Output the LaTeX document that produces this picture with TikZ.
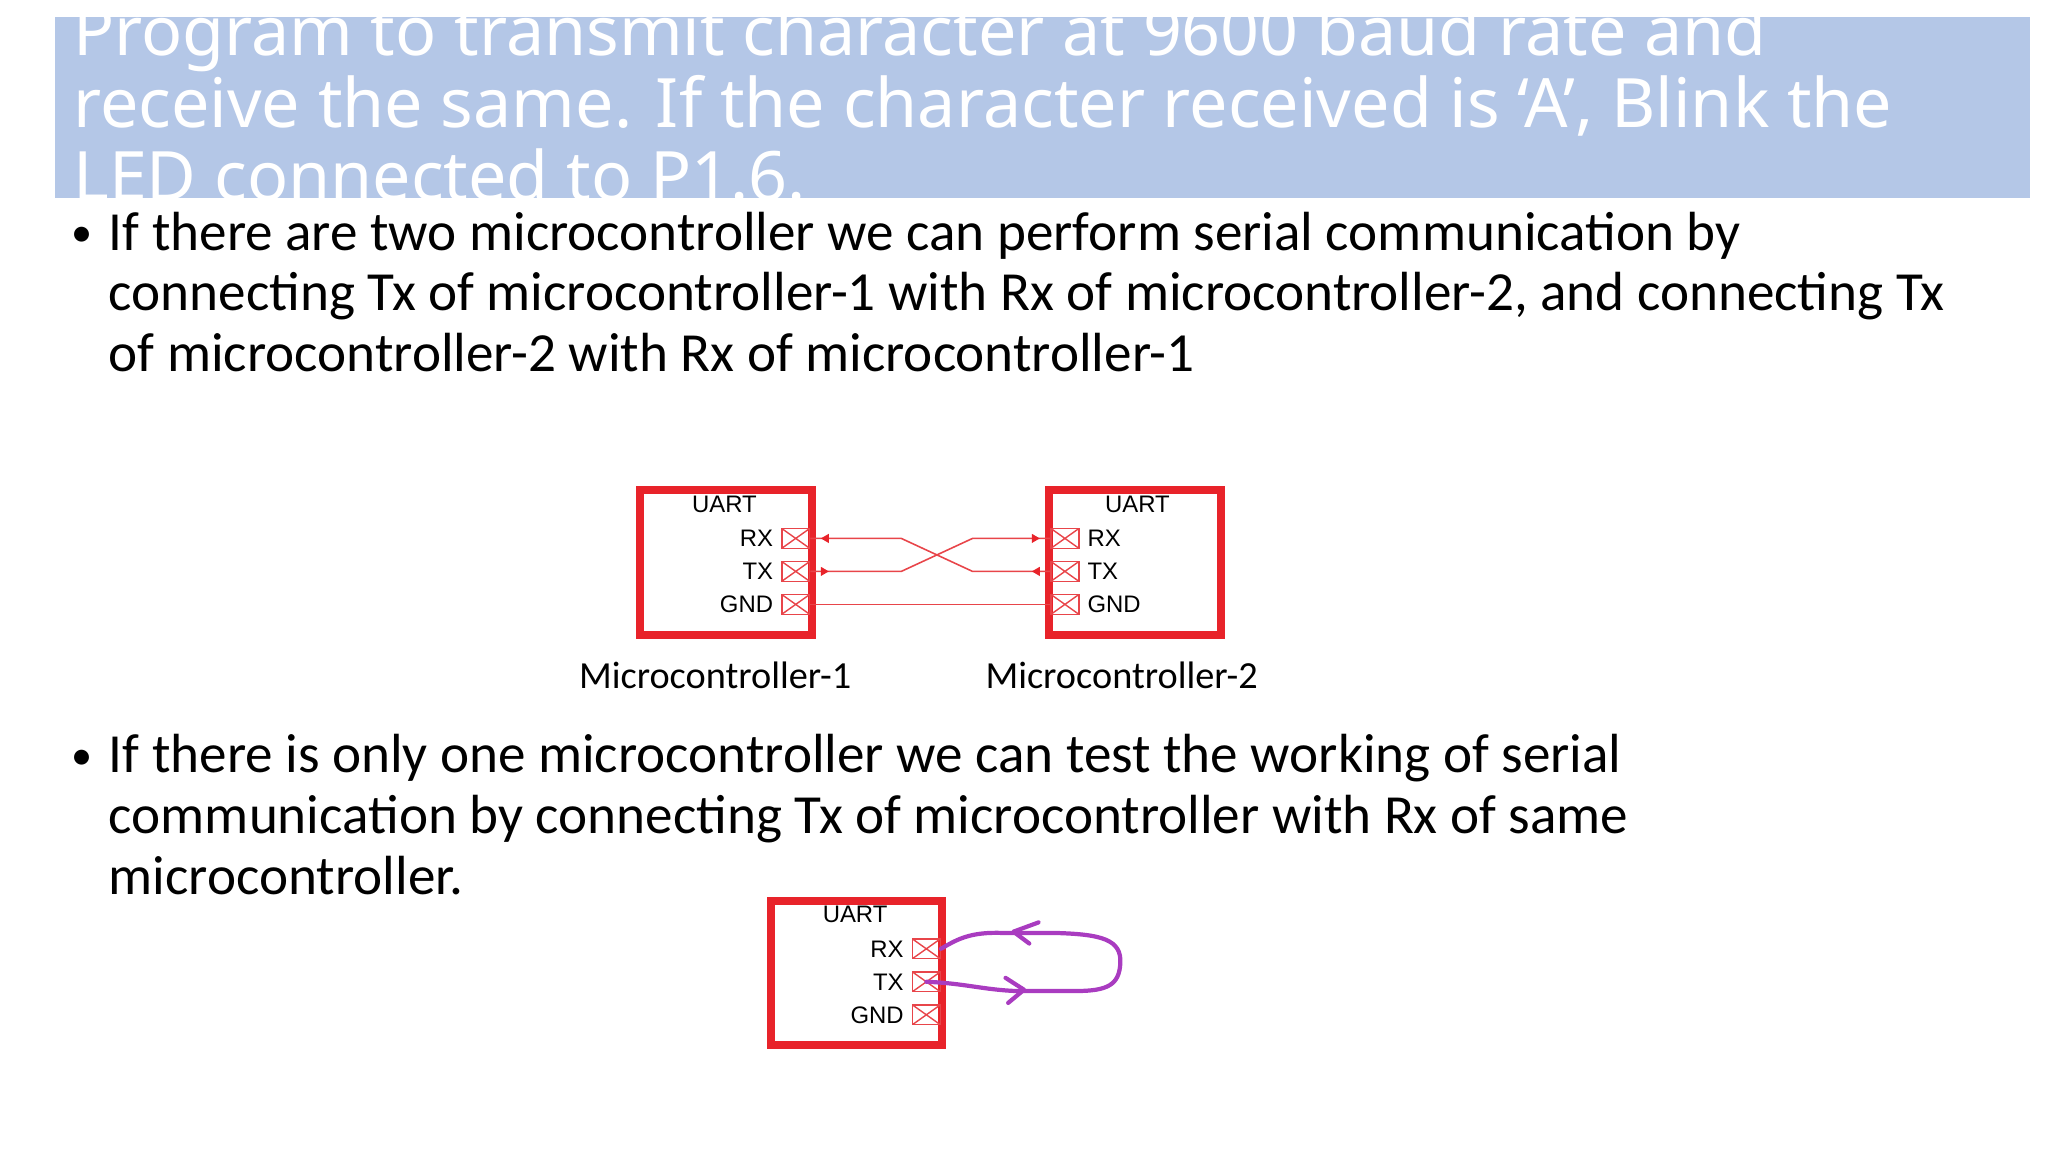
\documentclass[tikz,border=0pt]{standalone}
\usepackage{fontspec}
\setmainfont{Carlito}
\newfontfamily\titlefont{Noto Sans}
\newfontfamily\pinfont{Liberation Sans}
\usetikzlibrary{arrows.meta,calc}
\definecolor{banner}{HTML}{B4C7E7}
\definecolor{ured}{HTML}{E8232A}
\definecolor{wire}{HTML}{E8454A}
\definecolor{purp}{HTML}{A93CC0}
\begin{document}
\begin{tikzpicture}[x=0.013196cm,y=-0.013196cm,
  pinbox/.style={draw=wire,line width=0.4pt,minimum width=7.9pt,minimum height=5.6pt,inner sep=0,
    path picture={\draw[wire,line width=0.4pt](path picture bounding box.south west)--(path picture bounding box.north east)
    (path picture bounding box.north west)--(path picture bounding box.south east);}},
  pinlbl/.style={font=\pinfont\fontsize{6.8}{7.5}\selectfont,inner sep=1pt},
  body/.style={font=\fontsize{15.7}{17.3}\selectfont,align=left,inner sep=0},
  caption/.style={font=\fontsize{10.9}{12}\selectfont,inner sep=0},
  wireln/.style={wire,line width=0.45pt},
  loopln/.style={purp,line width=1.2pt,line cap=round,line join=round}]
\useasboundingbox (0,0) rectangle (1552,873);
% title banner
\fill[banner] (42,13) rectangle (1538,150);
\begin{scope}
\clip (42,13) rectangle (1538,150);
\node[anchor=north west,inner sep=0,text=white,align=left,font=\titlefont\fontsize{19.4}{20.7}\selectfont] (title) at (55,2)
 {Program to transmit character at 9600 baud rate and\\receive the same. If the character received is ‘A’, Blink the\\LED connected to P1.6.};
\end{scope}
% bullets
\node[body,anchor=north west] (b1) at (82,160) {If there are two microcontroller we can perform serial communication by\\connecting Tx of microcontroller-1 with Rx of microcontroller-2, and connecting Tx\\of microcontroller-2 with Rx of microcontroller-1};
\node[body,anchor=base,font=\fontsize{12}{14}\selectfont] (d1) at (62,187) {•};
\node[body,anchor=north west] (b2) at (82,556) {If there is only one microcontroller we can test the working of serial\\communication by connecting Tx of microcontroller with Rx of same\\microcontroller.};
\node[body,anchor=base,font=\fontsize{12}{14}\selectfont] (d2) at (62,583) {•};
% diagram 1
\draw[ured,line width=2.3pt] (485,371) rectangle (615,481);
\draw[ured,line width=2.3pt] (795,371) rectangle (925,481);
\node[pinlbl] (u1) at (549,382) {UART};
\node[pinlbl] (u2) at (862,382) {UART};
\foreach \n/\y/\t in {r/408/RX,t/433/TX,g/458/GND}{
  \node[pinbox] (\n1) at (603,\y) {};
  \node[pinlbl,anchor=east] (\n1l) at (589,\y) {\t};
  \node[pinbox] (\n2) at (807,\y) {};
  \node[pinlbl,anchor=west] (\n2l) at (821,\y) {\t};
}
\coordinate (a1) at (683,408);
\coordinate (a2) at (737,433);
\coordinate (c1) at (683,433);
\coordinate (c2) at (737,408);
\draw[wireln] (r1.east) -- (a1) -- (a2) -- (t2.west);
\draw[wireln] (t1.east) -- (c1) -- (c2) -- (r2.west);
\draw[wireln] (g1.east) -- (g2.west);
\fill[ured] ($(r1.east)+(8,0)$) -- ++(6,-3.5) -- ++(0,7) -- cycle;
\fill[ured] ($(t1.east)+(14,0)$) -- ++(-6,-3.5) -- ++(0,7) -- cycle;
\fill[ured] ($(r2.west)+(-8,0)$) -- ++(-6,-3.5) -- ++(0,7) -- cycle;
\fill[ured] ($(t2.west)+(-14,0)$) -- ++(6,-3.5) -- ++(0,7) -- cycle;
\node[caption] (m1) at (542,512) {Microcontroller-1};
\node[caption] (m2) at (850,512) {Microcontroller-2};
% diagram 2
\draw[ured,line width=2.3pt] (584,683) rectangle (714,792);
\node[pinlbl] (u3) at (648,693) {UART};
\foreach \n/\y/\t in {r/719/RX,t/744/TX,g/769/GND}{
  \node[pinbox] (\n3) at (702,\y) {};
  \node[pinlbl,anchor=east] (\n3l) at (688,\y) {\t};
}
\draw[loopln] (r3.east) .. controls (725,712) and (735,706) .. (760,707)
  -- (800,707) .. controls (835,708) and (850,712) .. (849,730)
  .. controls (848,746) and (840,751) .. (815,751) -- (770,751)
  .. controls (745,750) and (730,745) .. (t3.center);
\draw[loopln] (787,699) -- (768,706) -- (780,715);
\draw[loopln] (762,741) -- (776,750) -- (764,760);
\end{tikzpicture}
\end{document}
